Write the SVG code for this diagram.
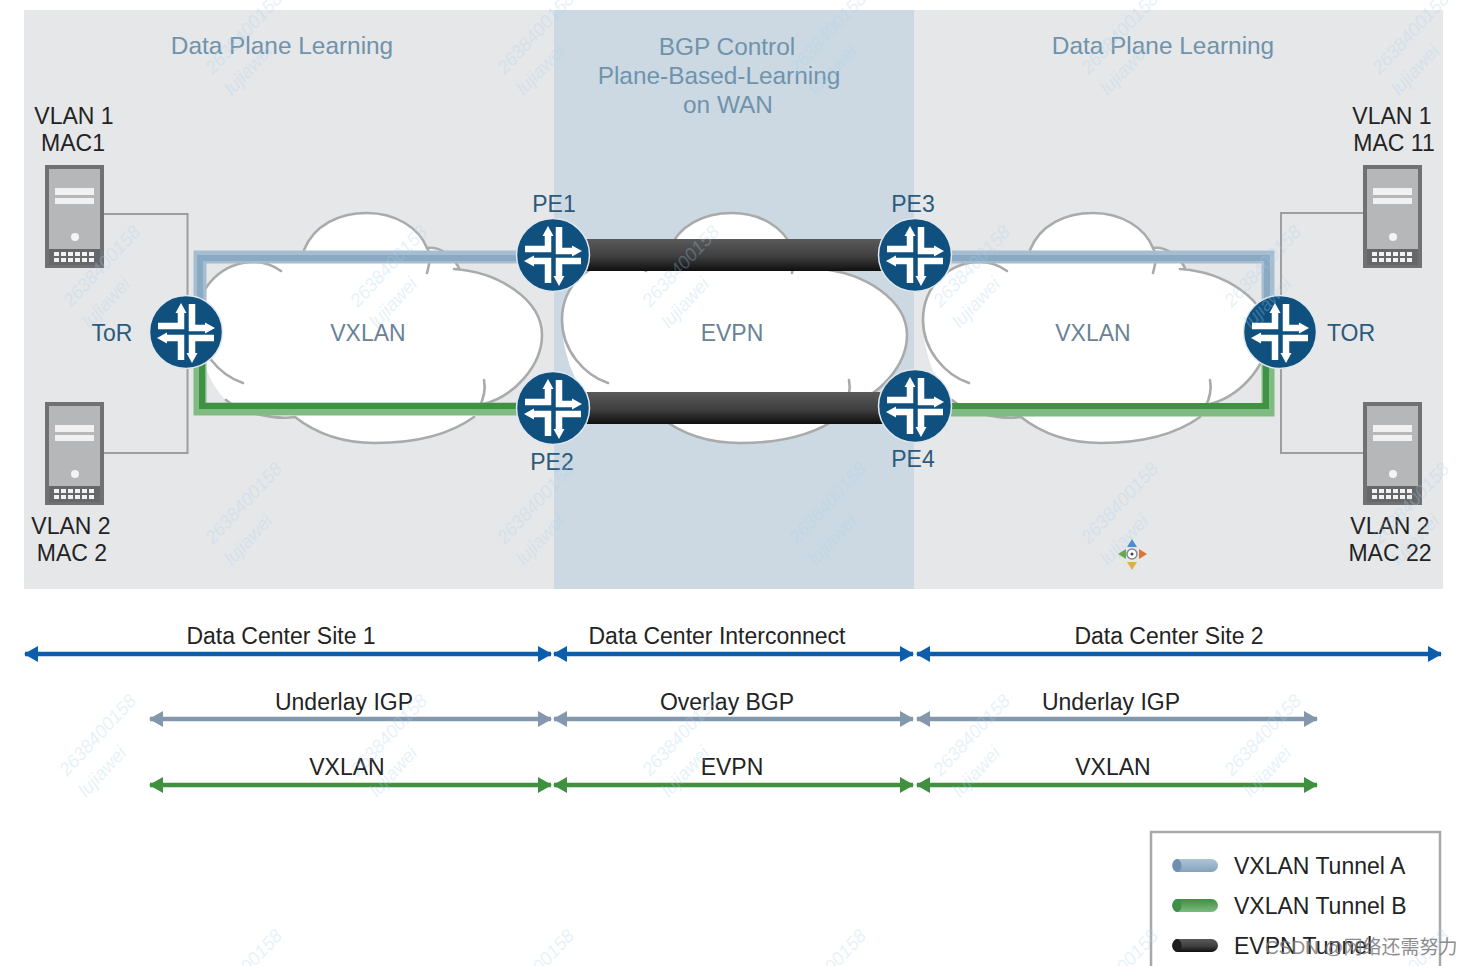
<svg xmlns="http://www.w3.org/2000/svg" width="1470" height="966" viewBox="0 0 1470 966">
<style>
text{font-family:"Liberation Sans",Arial,"Noto Sans CJK SC",sans-serif;font-size:23px;text-anchor:middle}
.title{fill:#6f93ac;font-size:24.400px}
.blk{fill:#232323}
.node{fill:#2b5a7c}
.cl{fill:#6a8295}
.lg{text-anchor:start;fill:#232323}
.wm{font-size:18.500px;font-style:italic;text-anchor:start;fill:#a9d2ee;opacity:.28}
.cs{fill:none;stroke:#a9abab;stroke-width:2.6;stroke-linecap:round}
.link{fill:none;stroke:#9c9e9f;stroke-width:2}
.t1{fill:none;stroke-width:13}
.dim{stroke-width:4.400;fill:none}
</style>
<defs>
<linearGradient id="gDark" x1="0" y1="0" x2="0" y2="1"><stop offset="0" stop-color="#5a5a5a"/><stop offset=".55" stop-color="#3f3f3f"/><stop offset="1" stop-color="#0f0f0f"/></linearGradient>
<linearGradient id="gBlue" x1="0" y1="0" x2="0" y2="1"><stop offset="0" stop-color="#aec4d6"/><stop offset="1" stop-color="#83a3bd"/></linearGradient>
<linearGradient id="gGreen" x1="0" y1="0" x2="0" y2="1"><stop offset="0" stop-color="#3d8f42"/><stop offset="1" stop-color="#7dbb80"/></linearGradient>
<marker id="mB" markerUnits="userSpaceOnUse" markerWidth="14" markerHeight="16" refX="13" refY="8" orient="auto-start-reverse"><path d="M0,0L14,8L0,16Z" fill="#0b5eab"/></marker>
<marker id="mG" markerUnits="userSpaceOnUse" markerWidth="14" markerHeight="16" refX="13" refY="8" orient="auto-start-reverse"><path d="M0,0L14,8L0,16Z" fill="#8498ad"/></marker>
<marker id="mV" markerUnits="userSpaceOnUse" markerWidth="14" markerHeight="16" refX="13" refY="8" orient="auto-start-reverse"><path d="M0,0L14,8L0,16Z" fill="#3f9140"/></marker>
<g id="router">
<circle r="36.500" fill="#10507f" stroke="#dfe8ee" stroke-width="1.500"/>
<g fill="none" stroke="#fff" stroke-width="6.500">
<path d="M-28,-6H-5V-20"/><path d="M6,-28V-4H20"/><path d="M-20,6H-5V28"/><path d="M28,6H6V22"/>
</g>
<g fill="#fff"><path d="M-5,-29L-10.500,-19H0.500Z"/><path d="M29,-4L19,-9.500V1.500Z"/><path d="M-29,6L-19,0.500V11.500Z"/><path d="M6,31L0.500,21H11.500Z"/></g>
</g>
<g id="cloud">
<path fill="#fff" d="M923,322C923,285 950,262 985,262L1030,250C1040,225 1065,213 1093,213C1122,213 1145,228 1153,248C1165,246 1178,255 1185,268C1225,275 1268,300 1268,335C1268,365 1240,398 1212,403L1200,417C1175,435 1140,443 1101,443C1065,443 1040,432 1021,417C1000,420 965,412 952,400C935,385 923,350 923,322Z"/>
<path class="cs" d="M969,383C945,375 923,350 923,320C923,285 950,262 980,262C990,262 1000,266 1007,271"/>
<path class="cs" d="M1030,250C1040,225 1065,213 1093,213C1122,213 1145,228 1153,248C1158,255 1155,265 1153,273"/>
<path class="cs" d="M1153,248C1165,246 1178,255 1185,268M1180,269C1225,272 1268,300 1268,335C1268,365 1240,398 1206,405"/>
<path class="cs" d="M1210,380C1212,390 1210,398 1205,408"/>
<path class="cs" d="M1200,417C1175,435 1140,443 1101,443C1065,443 1040,432 1021,417C1000,420 965,412 952,400"/>
</g>
<g id="server">
<rect x="47" y="167" width="55" height="99" fill="#b6b7b9" stroke="#707173" stroke-width="4"/>
<rect x="55" y="188" width="39" height="7" fill="#f1f1f1"/><rect x="55" y="198" width="39" height="6" fill="#f1f1f1"/>
<circle cx="75" cy="237" r="4" fill="#f4f4f4"/>
<rect x="49" y="249" width="51" height="16" fill="#666769"/>
<g fill="#f2f2f2"><rect x="54" y="252" width="5" height="4"/><rect x="61" y="252" width="5" height="4"/><rect x="68" y="252" width="5" height="4"/><rect x="75" y="252" width="5" height="4"/><rect x="82" y="252" width="5" height="4"/><rect x="89" y="252" width="5" height="4"/><rect x="54" y="258" width="5" height="4"/><rect x="61" y="258" width="5" height="4"/><rect x="68" y="258" width="5" height="4"/><rect x="75" y="258" width="5" height="4"/><rect x="82" y="258" width="5" height="4"/><rect x="89" y="258" width="5" height="4"/></g>
</g>
<g id="wm"><text class="wm" transform="rotate(-47)">2638400158</text><text class="wm" transform="translate(19,21) rotate(-47)">lujiawei</text></g>
</defs>
<rect width="1470" height="966" fill="#fff"/>
<g id="panels">
<rect x="24" y="10" width="1419" height="579" fill="#e6e7e9"/>
<rect x="554" y="10" width="360" height="579" fill="#ccd9e3"/>
</g>
<g id="clouds">
<use id="cloud-vxlan-left" href="#cloud" x="-726"/>
<use id="cloud-evpn" href="#cloud" x="-361"/>
<use id="cloud-vxlan-right" href="#cloud"/>
</g>
<g id="connectors">
<path class="link" d="M103,214H187.500V453H103"/>
<path class="link" d="M1366,213H1281V453H1366"/>
<path class="t1" stroke="#a6bdd1" d="M200,310V257H530"/>
<path fill="none" stroke="#8aa9c2" stroke-width="6" d="M200,310V258H530"/>
<path class="t1" stroke="#7fbb82" d="M200,355V409H530"/>
<path fill="none" stroke="#3f9144" stroke-width="6" d="M202,355V406H530"/>
<path class="t1" stroke="#a6bdd1" d="M940,257H1268V310"/>
<path fill="none" stroke="#8aa9c2" stroke-width="6" d="M940,258H1267V310"/>
<path class="t1" stroke="#7fbb82" d="M940,410H1268V355"/>
<path fill="none" stroke="#3f9144" stroke-width="6" d="M940,406H1266V355"/>
<rect x="580" y="239" width="310" height="32" fill="url(#gDark)"/>
<rect x="580" y="392" width="310" height="32" fill="url(#gDark)"/>
<path class="dim" stroke="#0b5eab" marker-start="url(#mB)" marker-end="url(#mB)" d="M25,654H551"/>
<path class="dim" stroke="#0b5eab" marker-start="url(#mB)" marker-end="url(#mB)" d="M554,654H913"/>
<path class="dim" stroke="#0b5eab" marker-start="url(#mB)" marker-end="url(#mB)" d="M917,654H1441"/>
<path class="dim" stroke="#8498ad" marker-start="url(#mG)" marker-end="url(#mG)" d="M150,719H551"/>
<path class="dim" stroke="#8498ad" marker-start="url(#mG)" marker-end="url(#mG)" d="M554,719H913"/>
<path class="dim" stroke="#8498ad" marker-start="url(#mG)" marker-end="url(#mG)" d="M917,719H1317"/>
<path class="dim" stroke="#3f9140" marker-start="url(#mV)" marker-end="url(#mV)" d="M150,785H551"/>
<path class="dim" stroke="#3f9140" marker-start="url(#mV)" marker-end="url(#mV)" d="M554,785H913"/>
<path class="dim" stroke="#3f9140" marker-start="url(#mV)" marker-end="url(#mV)" d="M917,785H1317"/>
</g>
<g id="server-1"><use href="#server"/><text class="blk" x="74" y="124">VLAN 1</text><text class="blk" x="73" y="151">MAC1</text></g>
<g id="server-2"><use href="#server" y="237"/><text class="blk" x="71" y="534">VLAN 2</text><text class="blk" x="72" y="561">MAC 2</text></g>
<g id="server-3"><use href="#server" x="1318"/><text class="blk" x="1392" y="124">VLAN 1</text><text class="blk" x="1394" y="151">MAC 11</text></g>
<g id="server-4"><use href="#server" x="1318" y="237"/><text class="blk" x="1390" y="534">VLAN 2</text><text class="blk" x="1390" y="561">MAC 22</text></g>
<g id="tor-left"><use href="#router" x="186" y="332"/><text class="node" x="112" y="341">ToR</text></g>
<g id="pe1"><use href="#router" x="553" y="255"/><text class="node" x="554" y="212">PE1</text></g>
<g id="pe2"><use href="#router" x="553" y="408"/><text class="node" x="552" y="470">PE2</text></g>
<g id="pe3"><use href="#router" x="915" y="255"/><text class="node" x="913" y="212">PE3</text></g>
<g id="pe4"><use href="#router" x="915" y="406"/><text class="node" x="913" y="467">PE4</text></g>
<g id="tor-right"><use href="#router" x="1280" y="332"/><text class="node" x="1351" y="341">TOR</text></g>
<g id="labels">
<text class="title" x="282" y="54">Data Plane Learning</text>
<text class="title" x="727" y="55">BGP Control</text>
<text class="title" x="719" y="84">Plane-Based-Learning</text>
<text class="title" x="728" y="113">on WAN</text>
<text class="title" x="1163" y="54">Data Plane Learning</text>
<text class="cl" x="368" y="341">VXLAN</text>
<text class="cl" x="732" y="341">EVPN</text>
<text class="cl" x="1093" y="341">VXLAN</text>
<text class="blk" x="281" y="644">Data Center Site 1</text>
<text class="blk" x="717" y="644">Data Center Interconnect</text>
<text class="blk" x="1169" y="644">Data Center Site 2</text>
<text class="blk" x="344" y="710">Underlay IGP</text>
<text class="blk" x="727" y="710">Overlay BGP</text>
<text class="blk" x="1111" y="710">Underlay IGP</text>
<text class="blk" x="347" y="775">VXLAN</text>
<text class="blk" x="732" y="775">EVPN</text>
<text class="blk" x="1113" y="775">VXLAN</text>
</g>
<g id="legend">
<rect x="1151" y="832" width="289" height="150" fill="#fff" stroke="#a9a9a9" stroke-width="2.500"/>
<rect x="1172" y="859" width="46" height="13" rx="6.500" fill="url(#gBlue)"/><ellipse cx="1177" cy="865.500" rx="4.500" ry="6.500" fill="#6f8fb0"/>
<rect x="1172" y="899" width="46" height="13" rx="6.500" fill="url(#gGreen)"/><ellipse cx="1177" cy="905.500" rx="4.500" ry="6.500" fill="#3f8f48"/>
<rect x="1172" y="939" width="46" height="13" rx="6.500" fill="url(#gDark)"/><ellipse cx="1177" cy="945.500" rx="4.500" ry="6.500" fill="#1c1c1c"/>
<text class="lg" x="1234" y="874">VXLAN Tunnel A</text>
<text class="lg" x="1234" y="914">VXLAN Tunnel B</text>
<text class="lg" x="1234" y="954">EVPN Tunnel</text>
</g>
<g id="pointer">
<path d="M1132,539l-5,8h10z" fill="#4a90d0"/>
<path d="M1118,554l8,-5v10z" fill="#6aa84f"/>
<path d="M1147,554l-8,-5v10z" fill="#d9743a"/>
<path d="M1132,570l-5,-8h10z" fill="#e0b03a"/>
<circle cx="1132" cy="554" r="5" fill="#fff" stroke="#889" stroke-width="1.500"/>
<circle cx="1132" cy="554" r="1.500" fill="#345"/>
</g>
<g id="watermarks">
<use href="#wm" x="213" y="75"/><use href="#wm" x="505" y="75"/><use href="#wm" x="797" y="75"/><use href="#wm" x="1089" y="75"/><use href="#wm" x="1380" y="75"/>
<use href="#wm" x="71" y="308"/><use href="#wm" x="358" y="308"/><use href="#wm" x="650" y="308"/><use href="#wm" x="941" y="308"/><use href="#wm" x="1232" y="308"/>
<use href="#wm" x="213" y="545"/><use href="#wm" x="505" y="545"/><use href="#wm" x="797" y="545"/><use href="#wm" x="1089" y="545"/><use href="#wm" x="1380" y="545"/>
<use href="#wm" x="67" y="777"/><use href="#wm" x="358" y="777"/><use href="#wm" x="650" y="777"/><use href="#wm" x="941" y="777"/><use href="#wm" x="1232" y="777"/>
<use href="#wm" x="213" y="1012"/><use href="#wm" x="505" y="1012"/><use href="#wm" x="797" y="1012"/><use href="#wm" x="1089" y="1012"/><use href="#wm" x="1380" y="1012"/>
</g>
<text x="1265" y="954" style="font-size:19px;text-anchor:start;fill:#7a7a7a;opacity:.85">CSDN @网络还需努力</text>
</svg>
